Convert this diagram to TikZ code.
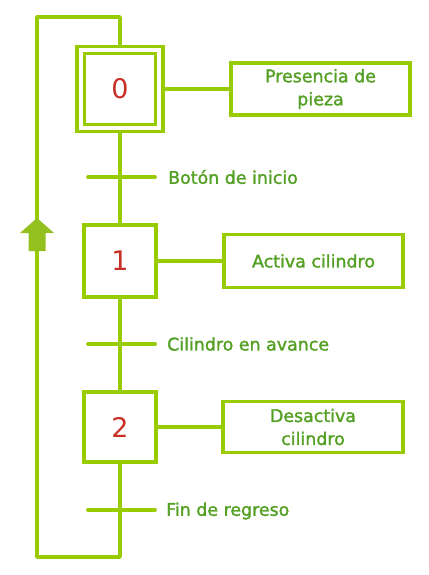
\documentclass[tikz,border=0pt]{standalone}
\usepackage{fontspec}
\setmainfont{DejaVu Sans}
\newfontfamily\lblfont[FakeBold=1.6]{DejaVu Sans}
\usepackage{tikz}
\usetikzlibrary{calc}

\definecolor{linegreen}{RGB}{153,204,0}
\definecolor{arrowgreen}{RGB}{147,192,31}
\definecolor{textgreen}{RGB}{84,160,36}
\definecolor{stepred}{RGB}{200,48,38}

\begin{document}
\begin{tikzpicture}[x=1pt,y=-1pt,
        wire/.style={linegreen,line width=3.8pt},
        stepbox/.style={draw=linegreen,line width=3.4pt,minimum width=72pt,minimum height=72pt,inner sep=0pt,
            text=stepred,font=\fontsize{27}{27}\selectfont},
        actbox/.style={draw=linegreen,line width=3.4pt,minimum width=179pt,minimum height=52pt,inner sep=0pt,
            text=textgreen,align=center,font=\lblfont\fontsize{17.4}{23}\selectfont},
        cond/.style={anchor=west,text=textgreen,inner sep=0pt,font=\lblfont\fontsize{17.4}{23}\selectfont}]
        \useasboundingbox (0,0) rectangle (428,575);
        % steps
        \node[stepbox,minimum width=86pt,minimum height=85pt] (s0o) at (120,89) {};
        \node[stepbox,minimum width=71pt,minimum height=71pt] (s0) at (120,89) {0};
        \node[stepbox] (s1) at (120,261) {1};
        \node[stepbox,minimum height=70pt] (s2) at (120,427) {2};
        % actions
        \node[actbox] (a0) at (320.5,89) {Presencia de\\pieza};
        \node[actbox,minimum height=53pt] (a1) at (313.5,261) {Activa cilindro};
        \node[actbox,minimum width=180pt,minimum height=51pt] (a2) at (313,427) {Desactiva\\cilindro};
        \draw[wire] (s0o.east) -- (a0.west);
        \draw[wire] (s1.east) -- (a1.west);
        \draw[wire] (s2.east) -- (a2.west);
        % transitions
        \coordinate (t0) at (120,177);
        \coordinate (t1) at (120,344);
        \coordinate (t2) at (120,510);
        \draw[wire] (s0o.south) -- (s1.north);
        \draw[wire] (s1.south) -- (s2.north);
        \foreach \t in {t0,t1,t2}
            \draw[wire,line cap=round] ($(\t)+(-32,0)$) -- ($(\t)+(35,0)$);
        \node[cond] (c0) at (168,177) {Botón de inicio};
        \node[cond] (c1) at (167,344) {Cilindro en avance};
        \node[cond] (c2) at (166,511) {Fin de regreso};
        % return loop
        \coordinate (bl) at (37,557);
        \coordinate (tl) at (37,17);
        \draw[wire,line join=round] (s2.south) |- (bl) -- (tl) -| (s0o.north);
        \fill[arrowgreen] (37,218) -- (54,233) -- (45.5,233) -- (45.5,251) -- (28.5,251) -- (28.5,233) -- (20,233) -- cycle;
    \end{tikzpicture}
\end{document}
